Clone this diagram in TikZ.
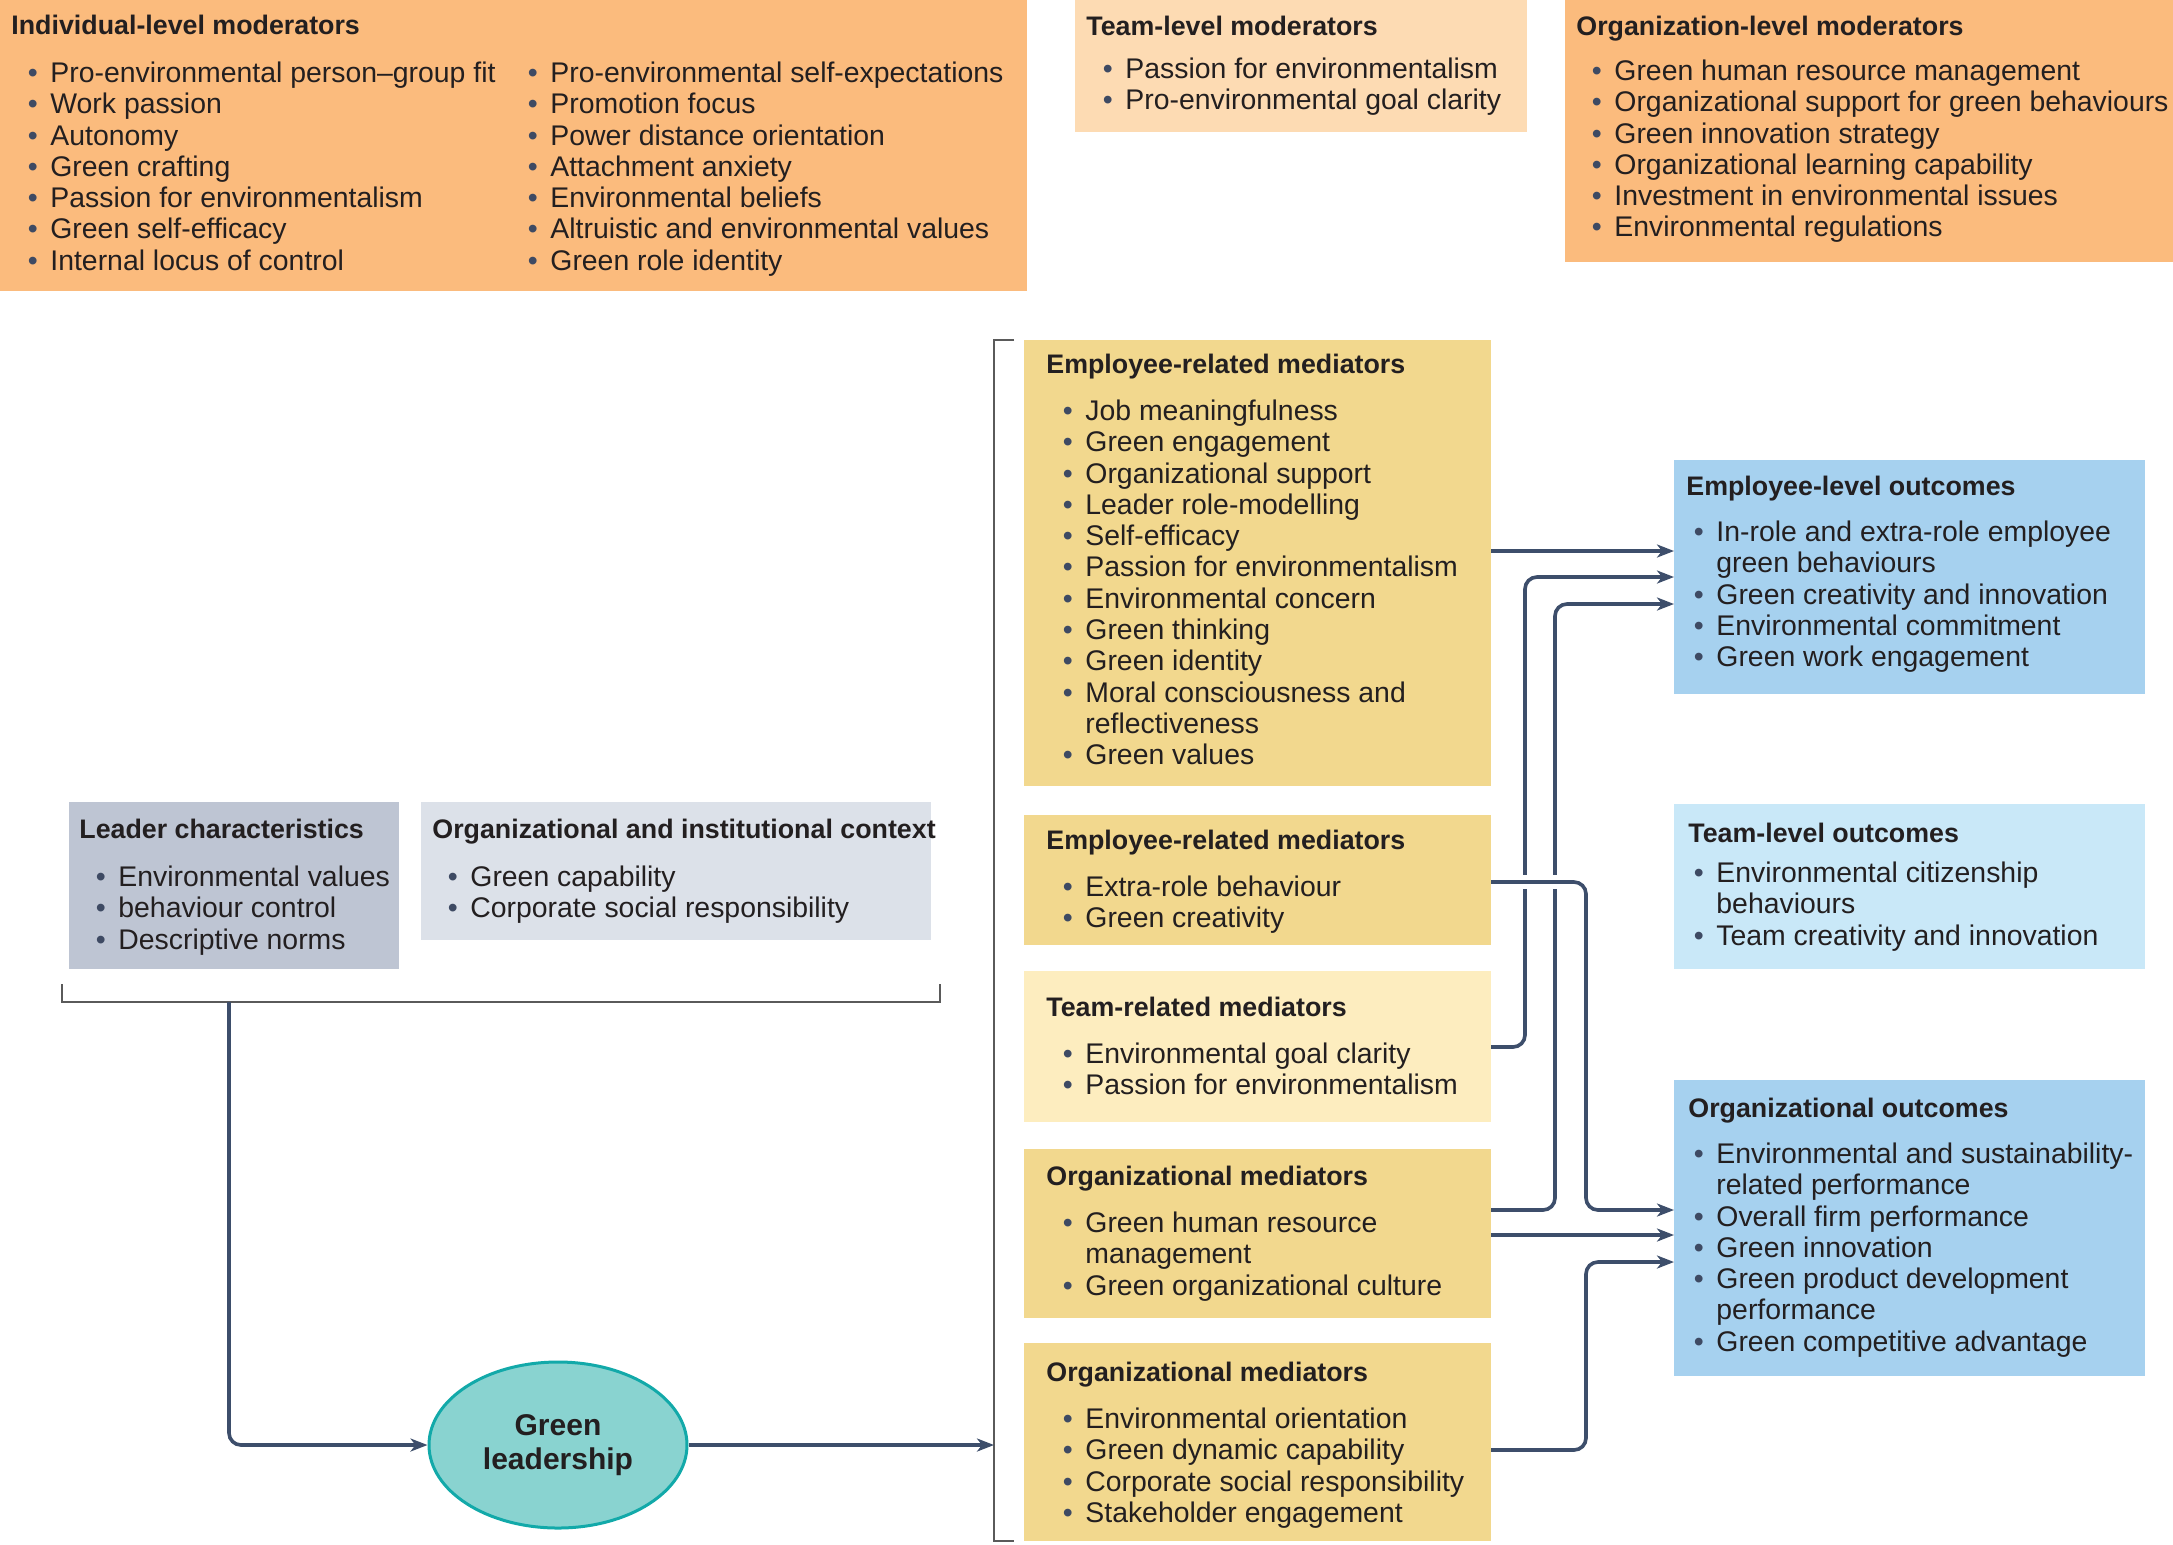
\documentclass[tikz,border=0pt]{standalone}
\usepackage{fontspec}
\setmainfont{Liberation Sans}
\usetikzlibrary{shapes.geometric,arrows.meta}
\definecolor{orangeb}{HTML}{FBBB7D}
\definecolor{peachb}{HTML}{FDDBB3}
\definecolor{yellowb}{HTML}{F2D88E}
\definecolor{lyellowb}{HTML}{FDEDBF}
\definecolor{blueb}{HTML}{A6D1EF}
\definecolor{lblueb}{HTML}{C9E8F8}
\definecolor{leaderb}{HTML}{BEC5D3}
\definecolor{contextb}{HTML}{DCE1E9}
\definecolor{ellfill}{HTML}{89D3D0}
\definecolor{elldraw}{HTML}{12A9A9}
\definecolor{navy}{HTML}{3D4E6B}
\definecolor{bulc}{HTML}{3E4A63}
\definecolor{txt}{HTML}{231F20}
\definecolor{brk}{HTML}{5A5A5A}
\newcommand\bu{\llap{\textcolor{bulc}{\textbullet}\hspace{6.3pt}}}
\newcommand\fl{\rule{0pt}{12pt}}
\begin{document}
\begin{tikzpicture}[x=0.5pt,y=-0.5pt,
  font=\fontsize{14.2}{15.65}\selectfont, text=txt,
  panel/.style={inner sep=0pt, outer sep=0pt, anchor=north west, draw=none},
  ttl/.style={anchor=base west, inner sep=0pt, font=\bfseries\fontsize{13.4}{15.65}\selectfont},
  lst/.style={anchor=north west, inner sep=0pt, align=left},
  conn/.style={draw=navy, line width=1.8pt, rounded corners=6pt,
    -{Stealth[length=8.5pt,width=6.5pt,inset=2.5pt]}},
  brkst/.style={draw=brk, line width=0.8pt}]
\fill[white] (0,0) rectangle (2173,1544);
\useasboundingbox (0,0) rectangle (2173,1544);

% ---- moderators
\node[panel, fill=orangeb, minimum width=513.5pt, minimum height=145.5pt] (indmod) at (0,0) {};
\node[ttl] (indmodt) at (11,34) {Individual-level moderators};
\node[lst] (indmodl1) at (50,58) {\fl\bu Pro-environmental person–group fit\\ \bu Work passion\\ \bu Autonomy\\ \bu Green crafting\\ \bu Passion for environmentalism\\ \bu Green self-efficacy\\ \bu Internal locus of control};
\node[lst] (indmodl2) at (550,58) {\fl\bu Pro-environmental self-expectations\\ \bu Promotion focus\\ \bu Power distance orientation\\ \bu Attachment anxiety\\ \bu Environmental beliefs\\ \bu Altruistic and environmental values\\ \bu Green role identity};

\node[panel, fill=peachb, minimum width=226pt, minimum height=66pt] (teammod) at (1075,0) {};
\node[ttl] (teammodt) at (1086,35) {Team-level moderators};
\node[lst] (teammodl) at (1125,54) {\fl\bu Passion for environmentalism\\ \bu Pro-environmental goal clarity};

\node[panel, fill=orangeb, minimum width=304pt, minimum height=131pt] (orgmod) at (1565,0) {};
\node[ttl] (orgmodt) at (1576,35) {Organization-level moderators};
\node[lst] (orgmodl) at (1614,56) {\fl\bu Green human resource management\\ \bu Organizational support for green behaviours\\ \bu Green innovation strategy\\ \bu Organizational learning capability\\ \bu Investment in environmental issues\\ \bu Environmental regulations};

% ---- antecedents
\node[panel, fill=leaderb, minimum width=165pt, minimum height=83.5pt] (leader) at (69,802) {};
\node[ttl] (leadert) at (79,838) {Leader characteristics};
\node[lst] (leaderl) at (118,862) {\fl\bu Environmental values\\ \bu behaviour control\\ \bu Descriptive norms};

\node[panel, fill=contextb, minimum width=255pt, minimum height=69pt] (context) at (421,802) {};
\node[ttl] (contextt) at (432,838) {Organizational and institutional context};
\node[lst] (contextl) at (470,862) {\fl\bu Green capability\\ \bu Corporate social responsibility};

% ---- mediators
\node[panel, fill=yellowb, minimum width=233.5pt, minimum height=223pt] (empmed) at (1024,340) {};
\node[ttl] (empmedt) at (1046,373) {Employee-related mediators};
\node[lst] (empmedl) at (1085,396) {\fl\bu Job meaningfulness\\ \bu Green engagement\\ \bu Organizational support\\ \bu Leader role-modelling\\ \bu Self-efficacy\\ \bu Passion for environmentalism\\ \bu Environmental concern\\ \bu Green thinking\\ \bu Green identity\\ \bu Moral consciousness and\\ reflectiveness\\ \bu Green values};

\node[panel, fill=yellowb, minimum width=233.5pt, minimum height=65pt] (empmed2) at (1024,815) {};
\node[ttl] (empmed2t) at (1046,849) {Employee-related mediators};
\node[lst] (empmed2l) at (1085,872) {\fl\bu Extra-role behaviour\\ \bu Green creativity};

\node[panel, fill=lyellowb, minimum width=233.5pt, minimum height=75.5pt] (teammed) at (1024,971) {};
\node[ttl] (teammedt) at (1046,1016) {Team-related mediators};
\node[lst] (teammedl) at (1085,1039) {\fl\bu Environmental goal clarity\\ \bu Passion for environmentalism};

\node[panel, fill=yellowb, minimum width=233.5pt, minimum height=84.5pt] (orgmed1) at (1024,1149) {};
\node[ttl] (orgmed1t) at (1046,1185) {Organizational mediators};
\node[lst] (orgmed1l) at (1085,1208) {\fl\bu Green human resource\\ management\\ \bu Green organizational culture};

\node[panel, fill=yellowb, minimum width=233.5pt, minimum height=99pt] (orgmed2) at (1024,1343) {};
\node[ttl] (orgmed2t) at (1046,1381) {Organizational mediators};
\node[lst] (orgmed2l) at (1085,1404) {\fl\bu Environmental orientation\\ \bu Green dynamic capability\\ \bu Corporate social responsibility\\ \bu Stakeholder engagement};

% ---- outcomes
\node[panel, fill=blueb, minimum width=235.5pt, minimum height=117pt] (empout) at (1674,460) {};
\node[ttl] (empoutt) at (1686,495) {Employee-level outcomes};
\node[lst] (empoutl) at (1716,517) {\fl\bu In-role and extra-role employee\\ green behaviours\\ \bu Green creativity and innovation\\ \bu Environmental commitment\\ \bu Green work engagement};

\node[panel, fill=lblueb, minimum width=235.5pt, minimum height=82.5pt] (teamout) at (1674,804) {};
\node[ttl] (teamoutt) at (1688,842) {Team-level outcomes};
\node[lst] (teamoutl) at (1716,858) {\fl\bu Environmental citizenship\\ behaviours\\ \bu Team creativity and innovation};

\node[panel, fill=blueb, minimum width=235.5pt, minimum height=148pt] (orgout) at (1674,1080) {};
\node[ttl] (orgoutt) at (1688,1117) {Organizational outcomes};
\node[lst] (orgoutl) at (1716,1139) {\fl\bu Environmental and sustainability-\\ related performance\\ \bu Overall firm performance\\ \bu Green innovation\\ \bu Green product development\\ performance\\ \bu Green competitive advantage};

% ---- green leadership
\node[ellipse, draw=elldraw, line width=1.5pt, fill=ellfill, minimum width=129pt, minimum height=83pt, inner sep=0pt, align=center, font=\bfseries\fontsize{15}{17}\selectfont] (gl) at (558,1445) {Green\\leadership};

% ---- brackets
\draw[brkst] (62,984) -- (62,1002) -- (940,1002) -- (940,984);
\coordinate (lbr) at (229,1002);
\draw[brkst] (1014,340) -- (994,340) -- (994,1541) -- (1014,1541);
\coordinate (rbr) at (994,1445);

% ---- connectors
\draw[conn] (lbr) |- (gl.west);
\draw[conn] (gl.east) -- (rbr);
\draw[conn] (empmed.east |- 0,551) -- (empout.west |- 0,551);
\draw[conn] (teammed.east |- 0,1047) -- (1525,1047) -- (1525,577) -- (empout.west |- 0,577);
\draw[conn] (orgmed1.east |- 0,1210) -- (1555,1210) -- (1555,604) -- (empout.west |- 0,604);
\draw[white, line width=7pt] (1512,882) -- (1570,882);
\draw[conn] (empmed2.east |- 0,882) -- (1586,882) -- (1586,1210) -- (orgout.west |- 0,1210);
\draw[conn] (orgmed1.east |- 0,1235) -- (orgout.west |- 0,1235);
\draw[conn] (orgmed2.east |- 0,1450) -- (1586,1450) -- (1586,1262) -- (orgout.west |- 0,1262);
\end{tikzpicture}
\end{document}
